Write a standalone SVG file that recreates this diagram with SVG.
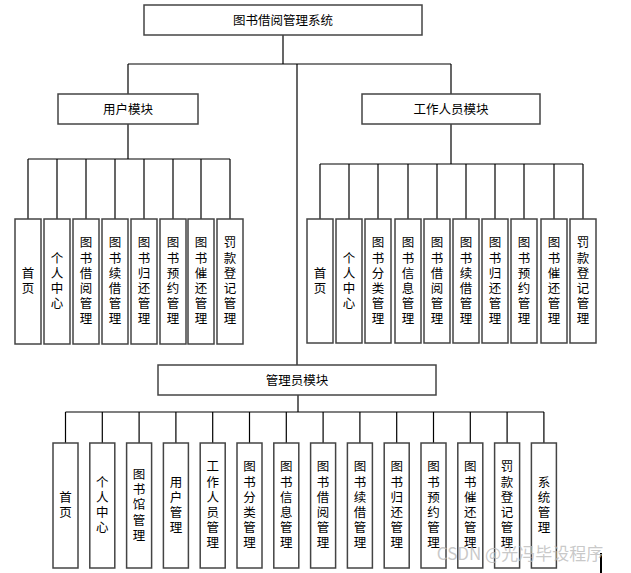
<svg xmlns="http://www.w3.org/2000/svg" width="631" height="573" viewBox="0 0 631 573">
<style>
rect{fill:#fff;stroke:#444;stroke-width:1.5}
line{stroke:#000;stroke-width:1.2}
text{font-family:"Noto Sans CJK SC","Liberation Sans",sans-serif;font-size:12.5px;fill:#000;text-anchor:middle}
.v{writing-mode:vertical-rl;letter-spacing:2.7px;dominant-baseline:central}
</style>
<rect x="0" y="0" width="631" height="573" style="stroke:none"/>
<g id="connectors">
<line x1="283" y1="35" x2="283" y2="64"/>
<line x1="128" y1="64" x2="451" y2="64"/>
<line x1="128" y1="64" x2="128" y2="94"/>
<line x1="451" y1="64" x2="451" y2="94"/>
<line x1="297" y1="64" x2="297" y2="365"/>
<line x1="128" y1="124" x2="128" y2="159"/>
<line x1="28" y1="159" x2="230" y2="159"/>
<line x1="451" y1="124" x2="451" y2="164"/>
<line x1="320" y1="164" x2="583" y2="164"/>
<line x1="298" y1="395" x2="298" y2="412"/>
<line x1="65.5" y1="412" x2="544" y2="412"/>
<line x1="28" y1="159" x2="28" y2="219"/><line x1="57" y1="159" x2="57" y2="219"/><line x1="86" y1="159" x2="86" y2="219"/><line x1="115" y1="159" x2="115" y2="219"/><line x1="144" y1="159" x2="144" y2="219"/><line x1="173" y1="159" x2="173" y2="219"/><line x1="201" y1="159" x2="201" y2="219"/><line x1="230" y1="159" x2="230" y2="219"/>
<line x1="320" y1="164" x2="320" y2="219"/><line x1="349" y1="164" x2="349" y2="219"/><line x1="378" y1="164" x2="378" y2="219"/><line x1="408" y1="164" x2="408" y2="219"/><line x1="437" y1="164" x2="437" y2="219"/><line x1="466" y1="164" x2="466" y2="219"/><line x1="495" y1="164" x2="495" y2="219"/><line x1="524" y1="164" x2="524" y2="219"/><line x1="554" y1="164" x2="554" y2="219"/><line x1="583" y1="164" x2="583" y2="219"/>
<line x1="65.5" y1="412" x2="65.5" y2="443"/><line x1="102.3" y1="412" x2="102.3" y2="443"/><line x1="139.1" y1="412" x2="139.1" y2="443"/><line x1="175.9" y1="412" x2="175.9" y2="443"/><line x1="212.7" y1="412" x2="212.7" y2="443"/><line x1="249.5" y1="412" x2="249.5" y2="443"/><line x1="286.3" y1="412" x2="286.3" y2="443"/><line x1="323.1" y1="412" x2="323.1" y2="443"/><line x1="359.9" y1="412" x2="359.9" y2="443"/><line x1="396.7" y1="412" x2="396.7" y2="443"/><line x1="433.5" y1="412" x2="433.5" y2="443"/><line x1="470.3" y1="412" x2="470.3" y2="443"/><line x1="507.1" y1="412" x2="507.1" y2="443"/><line x1="543.9" y1="412" x2="543.9" y2="443"/>
<line x1="601" y1="553" x2="601" y2="573" style="stroke-width:2"/>
</g>
<g id="root"><rect x="144" y="5" width="278" height="30"/><text x="283" y="25">图书借阅管理系统</text></g>
<g id="user"><rect x="58" y="94" width="140" height="30"/><text x="128" y="114">用户模块</text></g>
<g id="staff"><rect x="362" y="94" width="178" height="30"/><text x="451" y="114">工作人员模块</text></g>
<g id="admin"><rect x="158" y="365" width="278" height="30"/><text x="297" y="385">管理员模块</text></g>

<g id="u0"><rect x="15" y="219" width="26" height="125"/><text class="v" x="28" y="282">首页</text></g>
<g id="u1"><rect x="44" y="219" width="26" height="125"/><text class="v" x="57" y="282">个人中心</text></g>
<g id="u2"><rect x="73" y="219" width="26" height="125"/><text class="v" x="86" y="282">图书借阅管理</text></g>
<g id="u3"><rect x="102" y="219" width="26" height="125"/><text class="v" x="115" y="282">图书续借管理</text></g>
<g id="u4"><rect x="131" y="219" width="26" height="125"/><text class="v" x="144" y="282">图书归还管理</text></g>
<g id="u5"><rect x="160" y="219" width="26" height="125"/><text class="v" x="173" y="282">图书预约管理</text></g>
<g id="u6"><rect x="188" y="219" width="26" height="125"/><text class="v" x="201" y="282">图书催还管理</text></g>
<g id="u7"><rect x="217" y="219" width="26" height="125"/><text class="v" x="230" y="282">罚款登记管理</text></g>

<g id="s0"><rect x="307" y="219" width="26" height="124"/><text class="v" x="320" y="282">首页</text></g>
<g id="s1"><rect x="336" y="219" width="26" height="124"/><text class="v" x="349" y="282">个人中心</text></g>
<g id="s2"><rect x="365" y="219" width="26" height="124"/><text class="v" x="378" y="282">图书分类管理</text></g>
<g id="s3"><rect x="395" y="219" width="26" height="124"/><text class="v" x="408" y="282">图书信息管理</text></g>
<g id="s4"><rect x="424" y="219" width="26" height="124"/><text class="v" x="437" y="282">图书借阅管理</text></g>
<g id="s5"><rect x="453" y="219" width="26" height="124"/><text class="v" x="466" y="282">图书续借管理</text></g>
<g id="s6"><rect x="482" y="219" width="26" height="124"/><text class="v" x="495" y="282">图书归还管理</text></g>
<g id="s7"><rect x="511" y="219" width="26" height="124"/><text class="v" x="524" y="282">图书预约管理</text></g>
<g id="s8"><rect x="541" y="219" width="26" height="124"/><text class="v" x="554" y="282">图书催还管理</text></g>
<g id="s9"><rect x="570" y="219" width="26" height="124"/><text class="v" x="583" y="282">罚款登记管理</text></g>

<g id="a0"><rect x="53" y="443" width="25" height="125"/><text class="v" x="65.5" y="506">首页</text></g>
<g id="a1"><rect x="89.8" y="443" width="25" height="125"/><text class="v" x="102.3" y="506">个人中心</text></g>
<g id="a2"><rect x="126.6" y="443" width="25" height="125"/><text class="v" x="139.1" y="506">图书馆管理</text></g>
<g id="a3"><rect x="163.4" y="443" width="25" height="125"/><text class="v" x="175.9" y="506">用户管理</text></g>
<g id="a4"><rect x="200.2" y="443" width="25" height="125"/><text class="v" x="212.7" y="506">工作人员管理</text></g>
<g id="a5"><rect x="237" y="443" width="25" height="125"/><text class="v" x="249.5" y="506">图书分类管理</text></g>
<g id="a6"><rect x="273.8" y="443" width="25" height="125"/><text class="v" x="286.3" y="506">图书信息管理</text></g>
<g id="a7"><rect x="310.6" y="443" width="25" height="125"/><text class="v" x="323.1" y="506">图书借阅管理</text></g>
<g id="a8"><rect x="347.4" y="443" width="25" height="125"/><text class="v" x="359.9" y="506">图书续借管理</text></g>
<g id="a9"><rect x="384.2" y="443" width="25" height="125"/><text class="v" x="396.7" y="506">图书归还管理</text></g>
<g id="a10"><rect x="421" y="443" width="25" height="125"/><text class="v" x="433.5" y="506">图书预约管理</text></g>
<g id="a11"><rect x="457.8" y="443" width="25" height="125"/><text class="v" x="470.3" y="506">图书催还管理</text></g>
<g id="a12"><rect x="494.6" y="443" width="25" height="125"/><text class="v" x="507.1" y="506">罚款登记管理</text></g>
<g id="a13"><rect x="531.4" y="443" width="25" height="125"/><text class="v" x="543.9" y="506">系统管理</text></g>
<text x="520" y="560" style="font-size:17px;fill:#bbb;fill-opacity:0.8">CSDN @光冯毕设程序</text>
</svg>
